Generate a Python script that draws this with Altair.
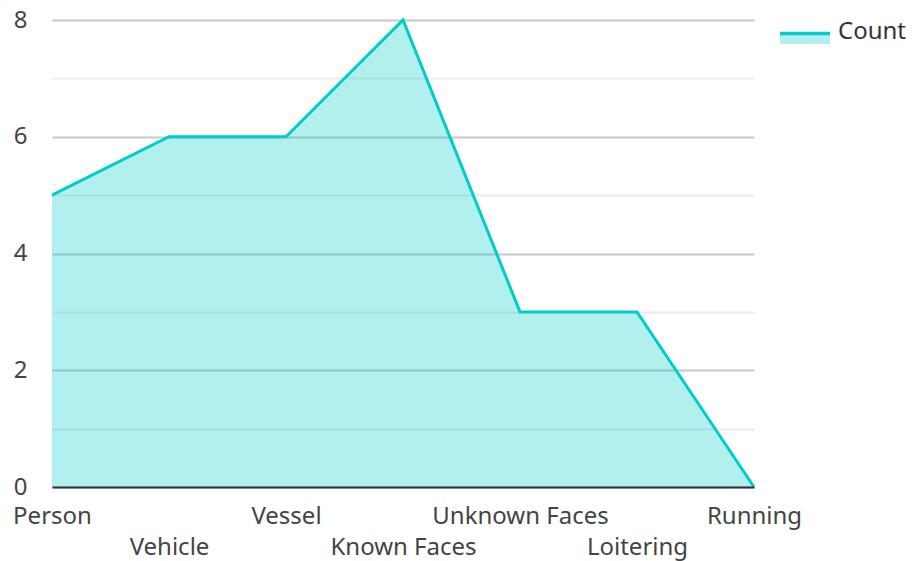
import altair as alt
import pandas as pd

categories = ["Person", "Vehicle", "Vessel", "Known Faces", "Unknown Faces", "Loitering", "Running"]
counts = [5, 6, 6, 8, 3, 3, 0]
series_name = "Count"

df = pd.DataFrame({"category": categories, "count": counts, "series": [series_name] * len(categories)})

FONT = "Noto Sans"
TEAL = "#00cccc"
FS = 24

x_enc = alt.X(
    "category:N",
    sort=categories,
    scale=alt.Scale(type="point", padding=0),
    axis=alt.Axis(
        title=None,
        labelAngle=0,
        labelOverlap=False,
        labelFont=FONT,
        labelFontSize=FS,
        labelColor="#444444",
        labelBaseline="top",
        labelPadding=17,
        labelLineHeight=31,
        labelExpr="round(datum.index * 6) % 2 ? ['', datum.label] : datum.label",
        ticks=False,
        grid=False,
        domainColor="#333333",
        domainWidth=2,
        zindex=1,
    ),
)

y_enc = alt.Y(
    "count:Q",
    scale=alt.Scale(domain=[0, 8], nice=False),
    axis=alt.Axis(
        title=None,
        values=[0, 1, 2, 3, 4, 5, 6, 7, 8],
        format="d",
        labelExpr="datum.value % 2 ? '' : datum.label",
        labelFont=FONT,
        labelFontSize=FS,
        labelColor="#444444",
        labelPadding=25,
        ticks=False,
        domain=False,
        gridColor=alt.condition("datum.value % 2 == 0", alt.value("#c8c8c8"), alt.value("#ebebeb")),
        gridWidth=2,
    ),
)

area = alt.Chart(df).mark_area(color=TEAL, fillOpacity=0.3).encode(
    x=x_enc,
    y=y_enc,
)

line = alt.Chart(df).mark_line(strokeWidth=3).encode(
    x=alt.X("category:N", sort=categories),
    y="count:Q",
    color=alt.Color(
        "series:N",
        scale=alt.Scale(range=[TEAL]),
        legend=alt.Legend(
            title=None,
            orient="none",
            legendX=726,
            legendY=-15,
            symbolType="M-1,0.06L1,0.06L1,0.48L-1,0.48Z",
            symbolSize=2500,
            symbolFillColor="#b2efee",
            symbolStrokeColor=TEAL,
            symbolStrokeWidth=3.5,
            symbolDash=[50, 80],
            symbolOpacity=1,
            labelFont=FONT,
            labelFontSize=FS,
            labelColor="#333333",
            labelOffset=6,
        ),
    ),
)

chart = alt.layer(area, line).properties(
    width=702,
    height=467,
    autosize=alt.AutoSizeParams(type="none"),
    padding={"left": 52, "top": 20, "right": 158, "bottom": 74},
).configure_view(stroke=None)

chart.save("out.html", embed_options={"renderer": "svg", "actions": False})
